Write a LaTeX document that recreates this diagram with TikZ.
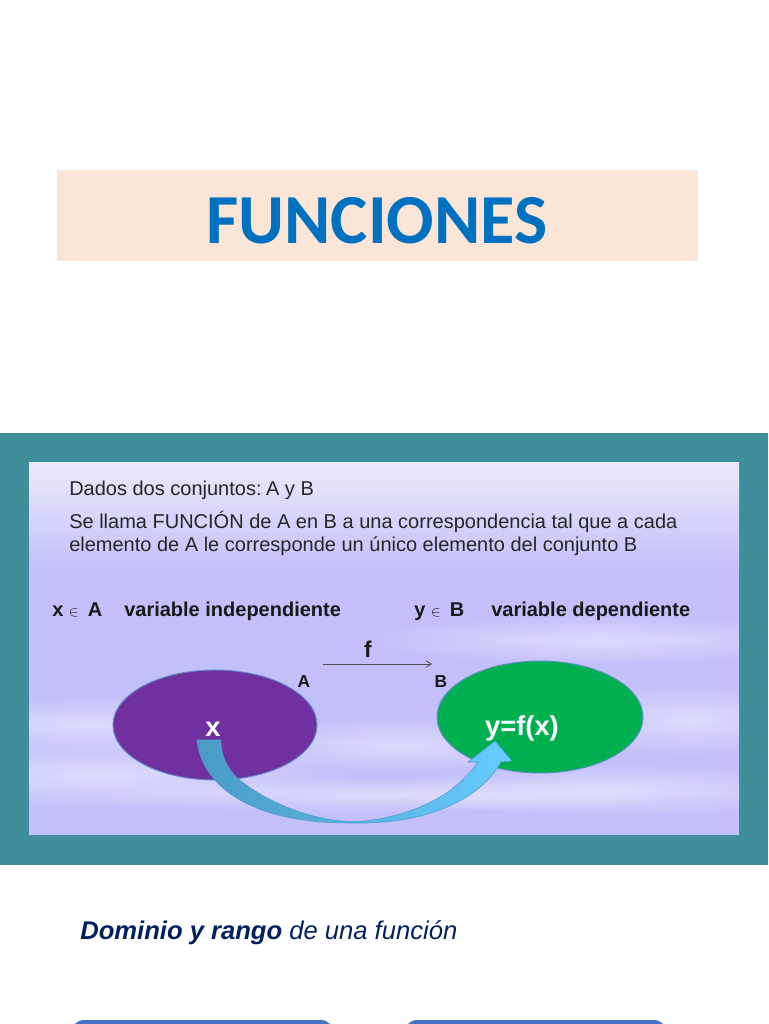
\documentclass[tikz,border=0pt]{standalone}
\usepackage{fontspec}
\setmainfont{Liberation Sans}
\newfontfamily\titlefont{Carlito}
\usetikzlibrary{fadings,arrows.meta}
\tikzfading[name=cloudfade, inner color=transparent!55, outer color=transparent!100]
\definecolor{tealpanel}{HTML}{3F8E9C}
\definecolor{skymid}{HTML}{C3BFFB}
\definecolor{skytop}{HTML}{ECEAFB}
\definecolor{peach}{HTML}{FBE5D6}
\definecolor{titleblue}{HTML}{0070C0}
\definecolor{navy}{HTML}{002060}
\definecolor{purplesets}{HTML}{7030A0}
\definecolor{greensets}{HTML}{00B050}
\definecolor{btnblue}{HTML}{4472C4}
\definecolor{arrowdark}{HTML}{4A9BC4}
\definecolor{arrowlight}{HTML}{66CCFF}
\definecolor{setline}{HTML}{5B8FC8}
\tikzset{
  x=0.75pt,y=-0.75pt,
  body/.style={anchor=base west,inner sep=0pt,font=\fontsize{15pt}{17pt}\selectfont,text=black!85},
  boldbody/.style={anchor=base west,inner sep=0pt,font=\fontsize{15pt}{17pt}\selectfont\bfseries,text=black!90},
  setlabel/.style={inner sep=0pt,font=\fontsize{13pt}{15pt}\selectfont\bfseries,text=black!90},
  inset/.style={inner sep=0pt,font=\fontsize{20.5pt}{23pt}\selectfont\bfseries,text=white},
  cloud/.style={fill=white,path fading=cloudfade},
  setellipse/.style={draw=setline,line width=0.7pt},
  button/.style={fill=btnblue,rounded corners=10pt}
}
\begin{document}
\begin{tikzpicture}
\useasboundingbox (0,0) rectangle (768,1024);
\clip (0,0) rectangle (768,1024);
\fill[white] (0,0) rectangle (768,1024);
% title
\fill[peach] (57,170) rectangle (698,261);
\node[inner sep=0pt,text=titleblue,font=\titlefont\fontsize{52.7pt}{56pt}\selectfont\bfseries] (title) at (377,221) {FUNCIONES};
% panel
\fill[tealpanel] (0,433) rectangle (768,865);
\begin{scope}
\clip (29,462) rectangle (739,835);
\shade[top color=skytop,bottom color=skymid] (29,462) rectangle (739,570);
\fill[skymid] (29,570) rectangle (739,835);
\fill[cloud] (600,640) ellipse (240 and 24);
\fill[cloud] (90,725) ellipse (220 and 28);
\fill[cloud] (100,775) ellipse (260 and 34);
\fill[cloud] (400,745) ellipse (170 and 28);
\fill[cloud] (620,790) ellipse (240 and 26);
\fill[cloud] (690,720) ellipse (150 and 36);
\fill[cloud] (380,795) ellipse (300 and 18);
\end{scope}
% text
\node[body] (t1) at (69,495) {Dados dos conjuntos:\hspace{-2.2pt} A y B};
\node[body] (t2) at (69,528) {Se llama FUNCIÓN de A en B a una correspondencia tal que a cada};
\node[body] (t3) at (69,551) {elemento de A le corresponde un único elemento del conjunto B};
\node[boldbody] (xa) at (52,616) {x $\scriptstyle\in$\hspace{2.8pt} A};
\node[boldbody] (vi) at (124,616) {variable independiente};
\node[boldbody] (yb) at (414,616) {y $\scriptstyle\in$\hspace{2.8pt} B};
\node[boldbody] (vd) at (491,616) {variable dependiente};
% function label and arrow
\node[inner sep=0pt,font=\fontsize{17pt}{19pt}\selectfont\bfseries,text=black!90] (f) at (368,649) {f};
\coordinate (fs) at (323,664);
\coordinate (fe) at (432,664);
\draw[black!70,line width=0.6pt,-{Straight Barb[length=4pt,width=5pt]}] (fs) -- (fe);
\node[setlabel] (la) at (304,682) {A};
\node[setlabel] (lb) at (441,682) {B};
% sets
\fill[purplesets,setellipse] (215,725) ellipse (102 and 55);
\fill[greensets,setellipse] (540,717) ellipse (103 and 56);
\node[inset] (x) at (213,729) {x};
\node[inset] (y) at (522,728) {y=f(x)};
% curved arrow
\path[draw=arrowdark,line width=0.4pt,left color=arrowdark,right color=arrowlight]
  (197,740) .. controls (200,775) and (235,823) .. (350,823)
  .. controls (425,825) and (480,800) .. (501,762)
  -- (512,761) -- (495,741) -- (468,762) -- (478,762)
  .. controls (455,795) and (415,815) .. (365,821)
  .. controls (315,825) and (262,800) .. (235,776)
  .. controls (226,765) and (221,755) .. (221,740) -- cycle;
% bottom
\node[anchor=base west,inner sep=0pt,text=navy,font=\fontsize{19.2pt}{21pt}\selectfont\itshape] (dom) at (80,939) {\textbf{Dominio y rango} de una función};
\fill[button] (71,1020) rectangle (334,1050);
\fill[button] (404,1020) rectangle (667,1050);
\end{tikzpicture}
\end{document}
